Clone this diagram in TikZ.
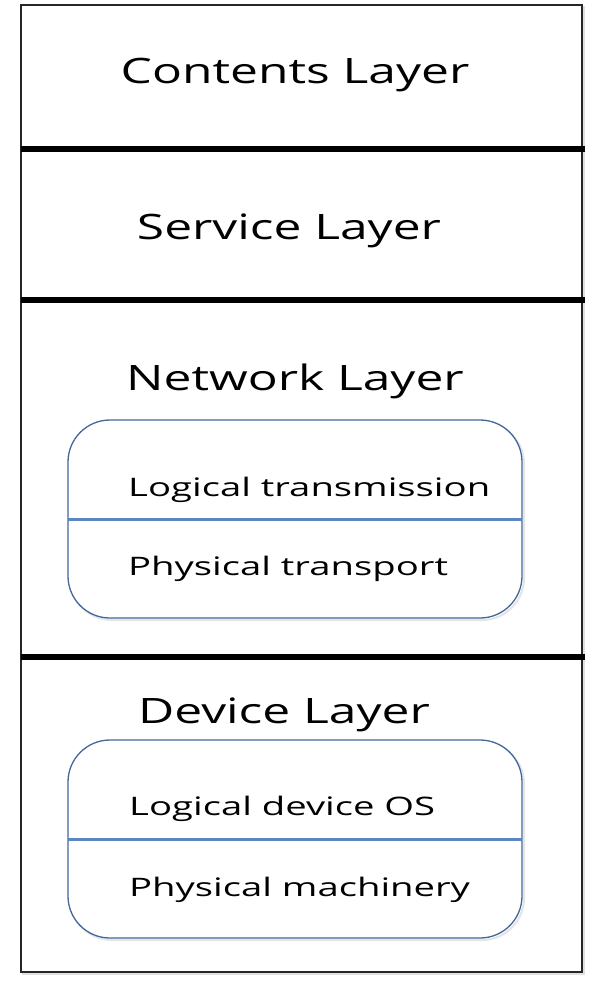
\documentclass[tikz,border=0pt]{standalone}
\usepackage{fontspec}
\setmainfont[FakeStretch=1.42]{Open Sans}
\newfontfamily\subfont[FakeStretch=1.5]{Open Sans}
\definecolor{blueline}{HTML}{41689C}
\definecolor{bluediv}{HTML}{5B87C0}
\begin{document}
\begin{tikzpicture}[x=1pt,y=-1pt,
  outer/.style={draw=black!85, line width=1.6pt},
  shade/.style={draw=black!12, line width=2pt},
  sep/.style={draw=black, line width=6pt},
  inner/.style={draw=blueline, line width=1.3pt, rounded corners=42pt},
  innershade/.style={draw=black!10, line width=2pt, rounded corners=42pt},
  divider/.style={draw=bluediv, line width=3pt},
  head/.style={font=\fontsize{35}{40}\selectfont, anchor=base, inner sep=0pt},
  sub/.style={font=\subfont\fontsize{25.5}{30}\selectfont, anchor=base west, inner sep=0pt}]
\useasboundingbox[fill=white] (0,0) rectangle (595,1007);
% outer frame
\coordinate (otl) at (21,5);
\coordinate (obr) at (582,972);
\coordinate (shtl) at (23,7);
\coordinate (shbr) at (584,974);
\draw[shade] (shtl) rectangle (shbr);
\draw[outer,fill=white] (otl) rectangle (obr);
% separators
\coordinate (s1l) at (21,149); \coordinate (s1r) at (585,149);
\coordinate (s2l) at (21,300); \coordinate (s2r) at (585,300);
\coordinate (s3l) at (21,657); \coordinate (s3r) at (585,657);
\draw[sep] (s1l) -- (s1r);
\draw[sep] (s2l) -- (s2r);
\draw[sep] (s3l) -- (s3r);
% inner rounded boxes
\coordinate (b1tl) at (68,420); \coordinate (b1br) at (522,618);
\coordinate (b1stl) at (70,422); \coordinate (b1sbr) at (524,620);
\coordinate (d1l) at (68,519); \coordinate (d1r) at (522,519);
\draw[innershade] (b1stl) rectangle (b1sbr);
\draw[inner,fill=white] (b1tl) rectangle (b1br);
\draw[divider] (d1l) -- (d1r);
\coordinate (b2tl) at (68,740); \coordinate (b2br) at (522,938);
\coordinate (b2stl) at (70,742); \coordinate (b2sbr) at (524,940);
\coordinate (d2l) at (68,839); \coordinate (d2r) at (522,839);
\draw[innershade] (b2stl) rectangle (b2sbr);
\draw[inner,fill=white] (b2tl) rectangle (b2br);
\draw[divider] (d2l) -- (d2r);
% headings
\node[head] (contents) at (295,83) {Contents Layer};
\node[head] (service) at (289,239) {Service Layer};
\node[head] (network) at (295,390) {Network Layer};
\node[head] (device) at (284,723) {Device Layer};
% sublayers
\node[sub] (logtx) at (128,496) {Logical transmission};
\node[sub] (phytr) at (128,575) {Physical transport};
\node[sub] (logos) at (129,815) {Logical device OS};
\node[sub] (phymach) at (129,896) {Physical machinery};
\end{tikzpicture}
\end{document}
